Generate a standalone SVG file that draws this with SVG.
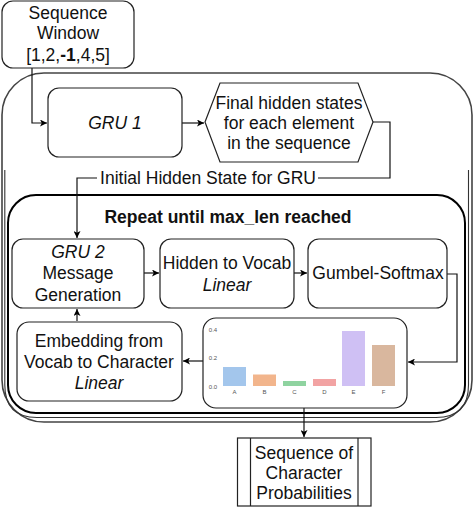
<svg xmlns="http://www.w3.org/2000/svg" width="474" height="509" viewBox="0 0 474 509">
<defs>
<marker id="ah" viewBox="0 0 10 10" refX="10" refY="5" markerWidth="7" markerHeight="7" markerUnits="userSpaceOnUse" orient="auto">
<path d="M0,0 L10,5 L0,10 L2.5,5 z" fill="#000"/>
</marker>
<style>
.box{fill:#fff;stroke:#222;stroke-width:1.2}
.t{font-family:"Liberation Sans",Arial,sans-serif;font-size:17.5px;fill:#111;text-anchor:middle}
.i{font-style:italic}
.b{font-weight:bold}
.c{fill:none;stroke:#111;stroke-width:1.2}
.ax{font-family:"Liberation Sans",Arial,sans-serif;font-size:6px;fill:#555;text-anchor:middle}
</style>
</defs>
<rect width="474" height="509" fill="#fff"/>
<g id="outer-container">
<rect x="2" y="73" width="470" height="349" rx="42" ry="42" fill="none" stroke="#444" stroke-width="1.6"/>
<path d="M4.8,170 V385 Q4.8,417.5 37,417.5 H436 Q468.5,417.5 468.5,385 V170" fill="none" stroke="#333" stroke-width="1.1"/>
</g>
<g id="repeat-container">
<rect x="8" y="195" width="457" height="218" rx="28" ry="28" fill="none" stroke="#000" stroke-width="2"/>
<text class="t b" x="228" y="223">Repeat until max_len reached</text>
</g>
<g id="connectors">
<path class="c" d="M32,68 V123 H47" marker-end="url(#ah)"/>
<path class="c" d="M182,123 H204" marker-end="url(#ah)"/>
<path class="c" d="M373,122 H390 V178 H318"/>
<path class="c" d="M97,178 H77 V238" marker-end="url(#ah)"/>
<path class="c" d="M144,273 H159" marker-end="url(#ah)"/>
<path class="c" d="M294,273 H307" marker-end="url(#ah)"/>
<path class="c" d="M447,274 H457 V362 H408" marker-end="url(#ah)"/>
<path class="c" d="M203,361 H183" marker-end="url(#ah)"/>
<path class="c" d="M77,321 V309" marker-end="url(#ah)"/>
<path class="c" d="M304,408 V437" marker-end="url(#ah)"/>
<text class="t" x="208" y="184">Initial Hidden State for GRU</text>
</g>
<g id="sequence-window">
<rect class="box" x="2" y="1" width="132" height="67" rx="11"/>
<text class="t" x="68" y="19">Sequence</text>
<text class="t" x="68" y="39">Window</text>
<text class="t" x="68" y="61">[1,2,<tspan class="b">-1</tspan>,4,5]</text>
</g>
<g id="gru1">
<rect class="box" x="48" y="88" width="134" height="69" rx="11"/>
<text class="t i" x="115" y="129">GRU 1</text>
</g>
<g id="final-hidden-states">
<polygon class="box" points="205,122 220,83 358,83 373,122 358,162 220,162"/>
<text class="t" x="289" y="109">Final hidden states</text>
<text class="t" x="289" y="129">for each element</text>
<text class="t" x="289" y="149">in the sequence</text>
</g>
<g id="gru2">
<rect class="box" x="12" y="239" width="132" height="69" rx="11"/>
<text class="t i" x="78" y="258">GRU 2</text>
<text class="t" x="78" y="279">Message</text>
<text class="t" x="78" y="301">Generation</text>
</g>
<g id="hidden-to-vocab">
<rect class="box" x="160" y="239" width="134" height="69" rx="11"/>
<text class="t" x="227" y="269">Hidden to Vocab</text>
<text class="t i" x="227" y="291">Linear</text>
</g>
<g id="gumbel-softmax">
<rect class="box" x="308" y="239" width="139" height="69" rx="11"/>
<text class="t" x="378" y="279">Gumbel-Softmax</text>
</g>
<g id="embedding">
<rect class="box" x="17" y="322" width="165" height="79" rx="12"/>
<text class="t" x="99" y="347">Embedding from</text>
<text class="t" x="99" y="368">Vocab to Character</text>
<text class="t i" x="99" y="389">Linear</text>
</g>
<g id="chart">
<rect class="box" x="203" y="318" width="204" height="90" rx="13"/>
<text class="ax" x="213" y="332">0.4</text>
<text class="ax" x="213" y="360">0.2</text>
<text class="ax" x="213" y="388.5">0.0</text>
<rect x="223" y="367" width="23" height="19" fill="#a3c6ec"/>
<rect x="253" y="374.5" width="23" height="11.5" fill="#f2b58c"/>
<rect x="283" y="381" width="23" height="5" fill="#8fd3a0"/>
<rect x="313" y="379" width="23" height="7" fill="#f2a3a3"/>
<rect x="342" y="331" width="23" height="55" fill="#cfc0f4"/>
<rect x="372" y="345" width="23" height="41" fill="#d9b79e"/>
<text class="ax" x="234.5" y="393.5">A</text>
<text class="ax" x="264.5" y="393.5">B</text>
<text class="ax" x="294.5" y="393.5">C</text>
<text class="ax" x="324.5" y="393.5">D</text>
<text class="ax" x="353.5" y="393.5">E</text>
<text class="ax" x="383.5" y="393.5">F</text>
</g>
<g id="output">
<rect class="box" x="237.5" y="438" width="133.5" height="68"/>
<line x1="250.5" y1="438" x2="250.5" y2="506" stroke="#222" stroke-width="1.2"/>
<line x1="358" y1="438" x2="358" y2="506" stroke="#222" stroke-width="1.2"/>
<text class="t" x="304" y="459">Sequence of</text>
<text class="t" x="304" y="479">Character</text>
<text class="t" x="304" y="499">Probabilities</text>
</g>
</svg>
